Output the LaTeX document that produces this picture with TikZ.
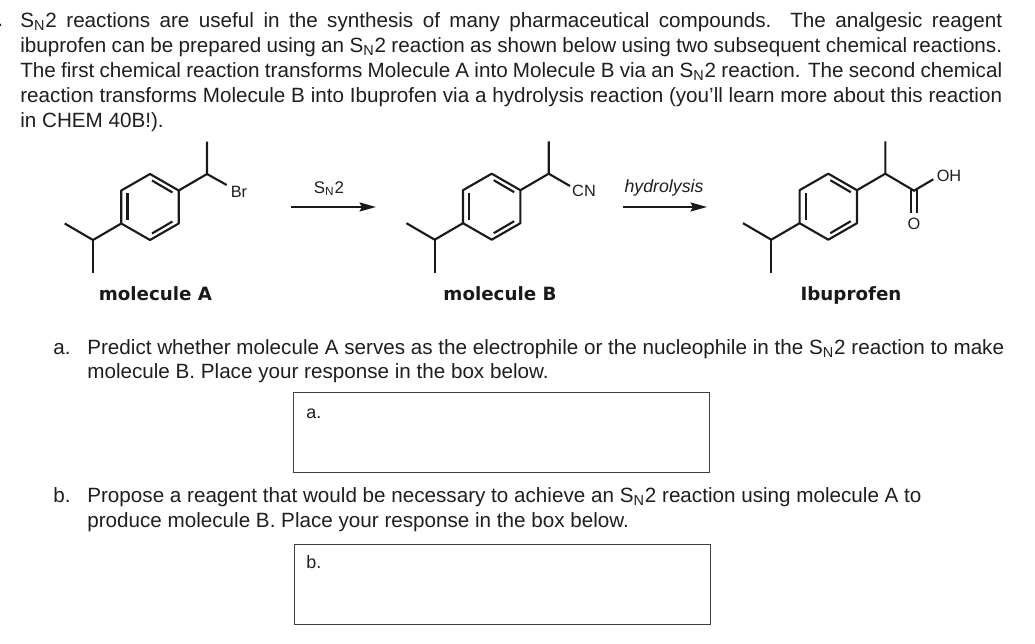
\documentclass[tikz,border=0pt]{standalone}
\usepackage{fontspec}
\setmainfont{Liberation Sans}
\newfontfamily\labelfont{DejaVu Sans}
\usetikzlibrary{arrows.meta}
\tikzset{
	bond/.style={line width=1.2pt, color=black!90},
	rxnarrow/.style={line width=1.1pt, color=black!90, -{Stealth[length=3.3mm, width=1.8mm, inset=0.5mm]}},
	plaintext/.style={anchor=base west, inner sep=0pt, font=\fontsize{11.75}{14.2}\selectfont, text=black!88},
	atomlabel/.style={inner sep=0pt, font=\fontsize{9.3}{11}\selectfont, text=black!88},
	molname/.style={anchor=base, inner sep=0pt, font=\labelfont\bfseries\fontsize{10.4}{12}\selectfont, text=black!90},
	answerbox/.style={draw=black!75, line width=0.55pt},
}
\def\sntwo{S\textsubscript{N}2}
\def\fullline#1{\hbox to 19.64cm{#1}}
% ring with the isopropyl arm and the methyl branch, #1 is the ring centre
\def\arylpart(#1){
	\begin{scope}[shift={(#1)}]
		\draw[bond, line join=round] (0, -33) -- (28.7, -16.5) -- (28.7, 16.5) -- (0, 33) -- (-28.7, 16.5) -- (-28.7, -16.5) -- cycle;
		\draw[bond] (2, -26.5) -- (22.5, -14.5);
		\draw[bond] (-22.5, -13.5) -- (-22.5, 13.5);
		\draw[bond] (2, 26.5) -- (22.5, 14.5);
		\draw[bond, line join=round] (-28.7, 16.5) -- (-57, 33) -- (-85.3, 16.5);
		\draw[bond] (-57, 33) -- (-57, 66);
		\draw[bond, line join=round] (28.7, -16.5) -- (57, -33) -- (57, -65.3);
	\end{scope}
}

\begin{document}
\begin{tikzpicture}[x=0.02cm, y=-0.02cm]
	%%%%% START %%%%%
	\useasboundingbox (0, 0) rectangle (1035, 644);
	\fill[white] (0, 0) rectangle (1035, 644);

	\node[plaintext] (stray) at (-3, 27) {.};
	\node[plaintext] (introone) at (20, 27.5) {\fullline{\sntwo{} reactions are useful in the synthesis of many pharmaceutical compounds. The analgesic reagent}};
	\node[plaintext] (introtwo) at (20, 52.5) {\fullline{ibuprofen can be prepared using an \sntwo{} reaction as shown below using two subsequent chemical reactions.}};
	\node[plaintext] (introthree) at (20, 77.5) {\fullline{The first chemical reaction transforms Molecule A into Molecule B via an \sntwo{} reaction. The second chemical}};
	\node[plaintext] (introfour) at (20, 103) {\fullline{reaction transforms Molecule B into Ibuprofen via a hydrolysis reaction (you'll learn more about this reaction}};
	\node[plaintext] (introfive) at (20, 128) {in CHEM 40B!).};

	% molecule A
	\arylpart(150, 207)
	\draw[bond] (207, 174) -- (226.7, 185);
	\node[atomlabel] (br) at (239, 191.5) {Br};
	\node[molname] (nameA) at (155.5, 301) {molecule A};

	\coordinate (arrowAstart) at (291, 207);
	\coordinate (arrowAend) at (376, 207);
	\draw[rxnarrow] (arrowAstart) -- (arrowAend);
	\node[atomlabel, font=\fontsize{9.6}{11}\selectfont] (snlabel) at (329, 188.5) {\sntwo};

	% molecule B
	\arylpart(491.7, 206.7)
	\draw[bond] (548.7, 173.7) -- (570, 186);
	\node[atomlabel] (cn) at (584, 191) {CN};
	\node[molname] (nameB) at (500, 301) {molecule B};

	\coordinate (arrowBstart) at (623, 207);
	\coordinate (arrowBend) at (707, 207);
	\draw[rxnarrow] (arrowBstart) -- (arrowBend);
	\node[atomlabel, font=\itshape\fontsize{10.1}{12}\selectfont] (hydro) at (664, 188) {hydrolysis};

	% ibuprofen
	\arylpart(828.3, 206.7)
	\draw[bond] (885.3, 173.7) -- (914, 190.7) -- (933.3, 179.3);
	\draw[bond] (911.3, 190) -- (911.3, 213.3);
	\draw[bond] (916.7, 190) -- (916.7, 213.3);
	\node[atomlabel] (oh) at (949, 175.5) {OH};
	\node[atomlabel] (oxy) at (914, 224) {O};
	\node[molname] (nameC) at (851, 301) {Ibuprofen};

	% question a
	\node[plaintext] (qa) at (53, 354.5) {a.};
	\node[plaintext] (qaone) at (87, 354.5) {Predict whether molecule A serves as the electrophile or the nucleophile in the \sntwo{} reaction to make};
	\node[plaintext] (qatwo) at (87, 378.5) {molecule B. Place your response in the box below.};
	\draw[answerbox] (293, 392) rectangle (709.5, 472.5);
	\node[plaintext, font=\fontsize{10.2}{12}\selectfont] (boxa) at (306, 419) {a.};

	% question b
	\node[plaintext] (qb) at (53, 502.5) {b.};
	\node[plaintext] (qbone) at (87, 502.5) {Propose a reagent that would be necessary to achieve an \sntwo{} reaction using molecule A to};
	\node[plaintext] (qbtwo) at (87, 527.5) {produce molecule B. Place your response in the box below.};
	\draw[answerbox] (294, 544) rectangle (710.5, 624.5);
	\node[plaintext, font=\fontsize{10.2}{12}\selectfont] (boxb) at (306, 569) {b.};
	%%%%% END %%%%%
\end{tikzpicture}
\end{document}
